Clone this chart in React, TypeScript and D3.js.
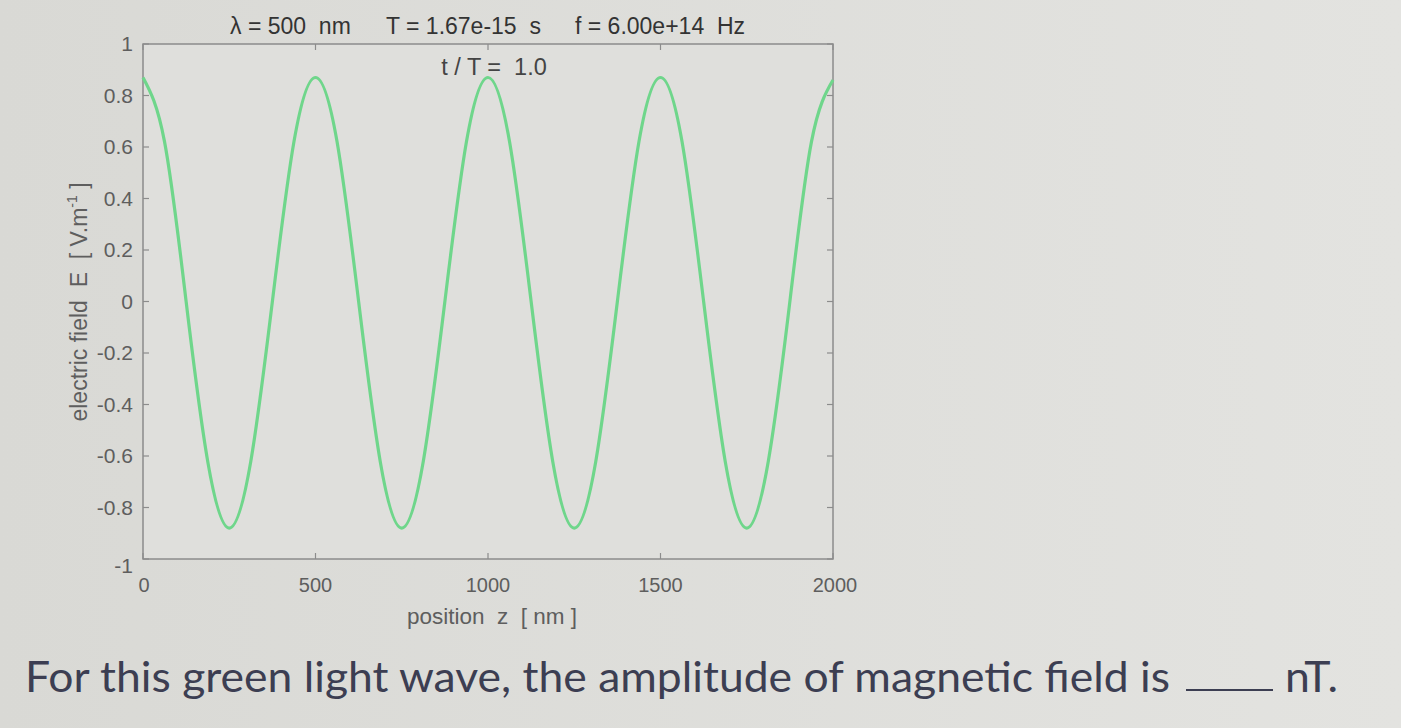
import React from "react";
import * as d3 from "d3";

// position z [nm], sampled every 62.5 nm
const positions: number[] = [
  0, 62.5, 125, 187.5, 250, 312.5, 375, 437.5, 500, 562.5, 625, 687.5, 750, 812.5, 875, 937.5,
  1000, 1062.5, 1125, 1187.5, 1250, 1312.5, 1375, 1437.5, 1500, 1562.5, 1625, 1687.5, 1750,
  1812.5, 1875, 1937.5, 2000,
];
// electric field E [V/m]
const field: number[] = [
  0.87, 0.62, 0.0, -0.62, -0.88, -0.62, 0.0, 0.62, 0.87, 0.62, 0.0, -0.62, -0.88, -0.62, 0.0, 0.62,
  0.87, 0.62, 0.0, -0.62, -0.88, -0.62, 0.0, 0.62, 0.87, 0.62, 0.0, -0.62, -0.88, -0.62, 0.0,
  0.62, 0.86,
];
const xTicks: number[] = [0, 500, 1000, 1500, 2000];
const yTicks: number[] = [-1, -0.8, -0.6, -0.4, -0.2, 0, 0.2, 0.4, 0.6, 0.8, 1];
const titleParts: string[] = ["λ = 500  nm", "T = 1.67e-15  s", "f = 6.00e+14  Hz"];
const subtitle = "t / T =  1.0";
const xLabel = "position  z  [ nm ]";
const questionStart = "For this green light wave, the amplitude of magnetic field is";
const questionEnd = "nT.";

const W = 1401;
const H = 728;
const plot = { left: 143, right: 833, top: 44, bottom: 559 };

export default function App() {
  const x = d3.scaleLinear().domain([0, 2000]).range([plot.left, plot.right]);
  const y = d3.scaleLinear().domain([-1, 1]).range([plot.bottom, plot.top]);
  const line = d3
    .line<number>()
    .x((_, i) => x(positions[i]))
    .y((d) => y(d))
    .curve(d3.curveNatural);
  const chartFont = "'Liberation Sans', Arial, sans-serif";
  const tickColor = "#5e5e5e";
  const frame = "#8c8c8c";
  const titleX = [230, 386, 575];
  const qFont = "Lato, 'Open Sans', sans-serif";
  return (
    <svg
      width={W}
      height={H}
      style={{ position: "absolute", left: 0, top: 0 }}
      xmlns="http://www.w3.org/2000/svg"
    >
      <defs>
        <linearGradient id="bg" x1="0" y1="0" x2="1" y2="0">
          <stop offset="0" stopColor="#d9d9d5" />
          <stop offset="1" stopColor="#e3e3e0" />
        </linearGradient>
      </defs>
      <rect x={0} y={0} width={W} height={H} fill="url(#bg)" />
      <rect
        x={plot.left}
        y={plot.top}
        width={plot.right - plot.left}
        height={plot.bottom - plot.top}
        fill="#dfdfdc"
        stroke={frame}
        strokeWidth={1.5}
      />
      {/* y ticks */}
      {yTicks.map((t) => (
        <g key={"y" + t}>
          <line x1={plot.left} x2={plot.left + 6} y1={y(t)} y2={y(t)} stroke={frame} strokeWidth={1.2} />
          <line x1={plot.right} x2={plot.right - 6} y1={y(t)} y2={y(t)} stroke={frame} strokeWidth={1.2} />
          <text
            x={133}
            y={y(t) + (t === -1 ? 14 : 7)}
            textAnchor="end"
            fontFamily={chartFont}
            fontSize={21}
            fill={tickColor}
          >
            {String(t)}
          </text>
        </g>
      ))}
      {/* x ticks */}
      {xTicks.map((t) => (
        <g key={"x" + t}>
          <line x1={x(t)} x2={x(t)} y1={plot.bottom} y2={plot.bottom - 6} stroke={frame} strokeWidth={1.2} />
          <line x1={x(t)} x2={x(t)} y1={plot.top} y2={plot.top + 6} stroke={frame} strokeWidth={1.2} />
          <text
            x={x(t) + (t === 2000 ? 2 : t === 0 ? 1 : 0)}
            y={592}
            textAnchor="middle"
            fontFamily={chartFont}
            fontSize={20}
            fill={tickColor}
          >
            {String(t)}
          </text>
        </g>
      ))}
      {/* wave */}
      <path d={line(field) || ""} fill="none" stroke="#6fd68b" strokeWidth={3.2} strokeLinejoin="round" />
      {/* titles */}
      {titleParts.map((s, i) => (
        <text
          key={s}
          x={titleX[i]}
          y={34}
          fontFamily={chartFont}
          fontSize={23}
          fill="#333"
          style={{ whiteSpace: "pre" }}
        >
          {s}
        </text>
      ))}
      <text
        x={494}
        y={75}
        textAnchor="middle"
        fontFamily={chartFont}
        fontSize={23.5}
        fill="#444"
        style={{ whiteSpace: "pre" }}
      >
        {subtitle}
      </text>
      {/* axis labels */}
      <text
        x={492}
        y={624}
        textAnchor="middle"
        fontFamily={chartFont}
        fontSize={22.5}
        fill={tickColor}
        style={{ whiteSpace: "pre" }}
      >
        {xLabel}
      </text>
      <text
        transform="translate(87,302) rotate(-90)"
        textAnchor="middle"
        fontFamily={chartFont}
        fontSize={23}
        fill={tickColor}
        style={{ whiteSpace: "pre" }}
      >
        {"electric field  E  [ V.m"}
        <tspan fontSize={14} dy={-10}>
          -1
        </tspan>
        <tspan dy={10}>{" ]"}</tspan>
      </text>
      {/* question */}
      <text
        x={25}
        y={692}
        fontFamily={qFont}
        fontSize={42}
        fill="#3c3e52"
        textLength={1145}
        lengthAdjust="spacingAndGlyphs"
      >
        {questionStart}
      </text>
      <line x1={1186} x2={1273} y1={690} y2={690} stroke="#3c3e52" strokeWidth={2} />
      <text x={1285} y={692} fontFamily={qFont} fontSize={42} fill="#3c3e52" textLength={53} lengthAdjust="spacingAndGlyphs">
        {questionEnd}
      </text>
    </svg>
  );
}
